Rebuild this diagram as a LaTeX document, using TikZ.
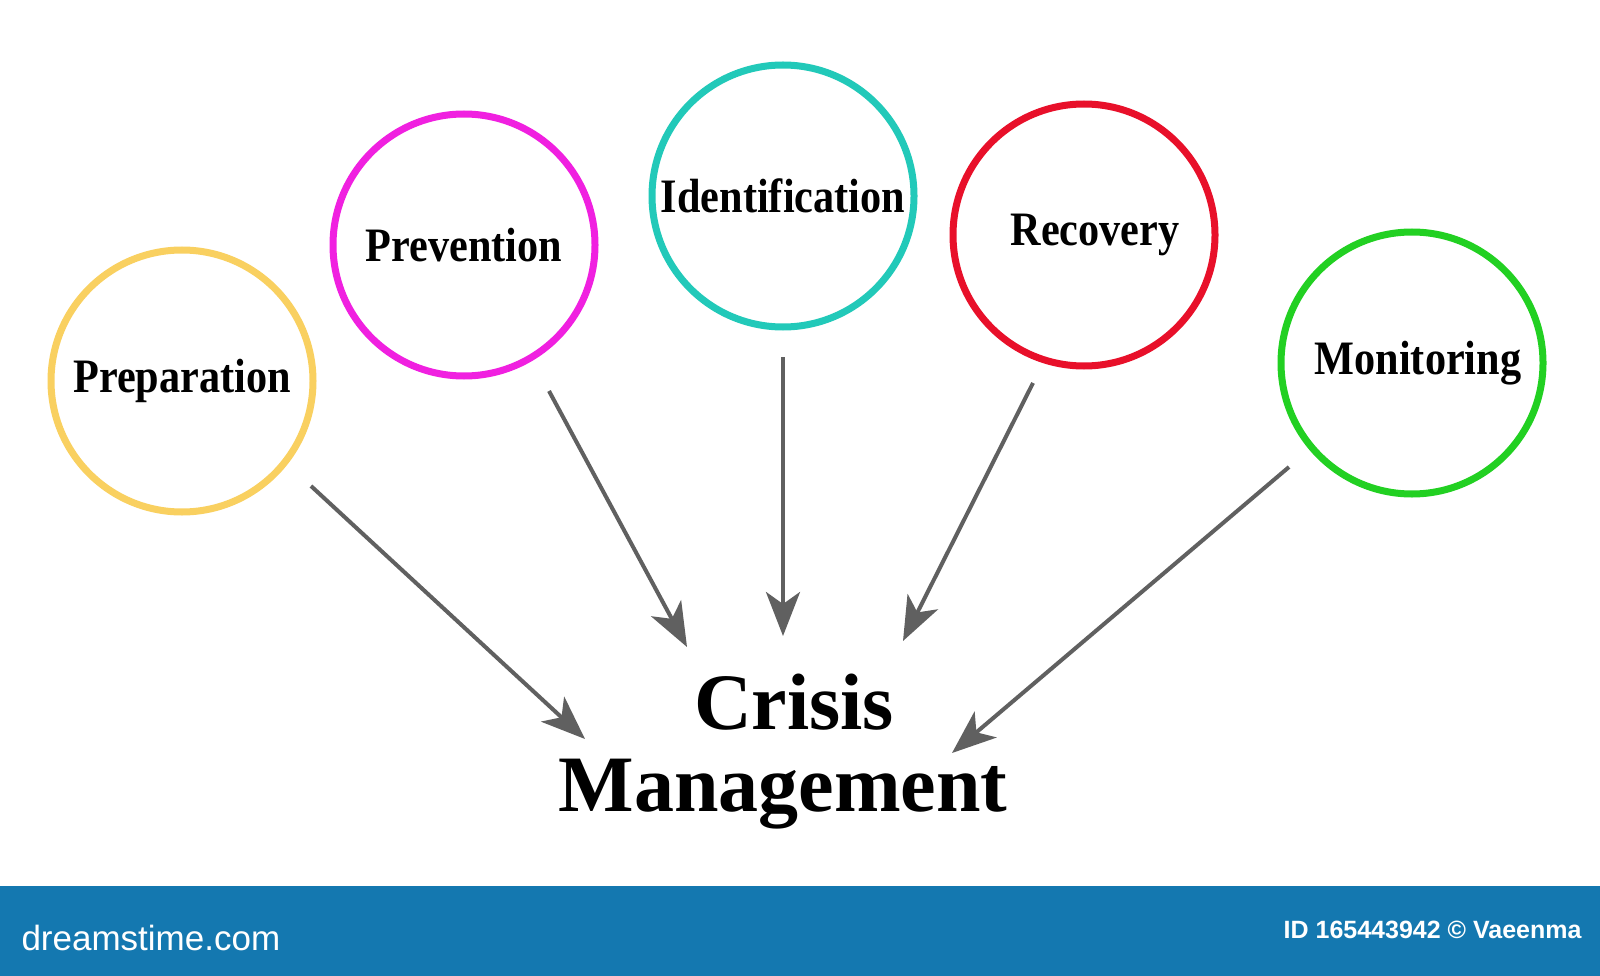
\documentclass[tikz,border=0pt]{standalone}
\usepackage{fontspec}
\setmainfont{Liberation Serif}
\newfontfamily\barfont{Liberation Sans}
\usetikzlibrary{arrows.meta}
\definecolor{cy}{HTML}{F9D060}\definecolor{cm}{HTML}{F020E0}
\definecolor{ct}{HTML}{22C9B9}\definecolor{cr}{HTML}{E8102A}
\definecolor{cg}{HTML}{22D022}\definecolor{bar}{HTML}{1478B0}
\definecolor{ar}{HTML}{606060}
\tikzset{ring/.style={circle,draw=#1,line width=7pt,minimum size=262pt,inner sep=0pt,
  font=\fontsize{48}{54}\selectfont\bfseries},
  arr/.style={draw=ar,line width=4pt,-{Stealth[length=44pt,width=34pt,inset=12pt]}},
  title/.style={font=\fontsize{80}{86}\selectfont\bfseries}}
\begin{document}
\begin{tikzpicture}[x=1pt,y=-1pt]
\useasboundingbox (0,0) rectangle (1600,976);
\fill[white] (0,0) rectangle (1600,976);
\node[ring=cy] (prep) at (182,381) {\raisebox{-10pt}{\scalebox{0.88}[1]{Preparation}}};
\node[ring=cm] (prev) at (464,245) {\raisebox{-3pt}{\scalebox{0.88}[1]{Prevention}}};
\node[ring=ct] (iden) at (783,196) {\raisebox{-3pt}{\scalebox{0.88}[1]{Identification}}};
\node[ring=cr] (reco) at (1084,235) {\hspace*{22pt}\raisebox{-6pt}{\scalebox{0.88}[1]{Recovery}}};
\node[ring=cg] (moni) at (1412,363) {\hspace*{12pt}\raisebox{-8pt}{\scalebox{0.88}[1]{Monitoring}}};
\node[title] (crisis) at (794,702) {Crisis};
\node[title] (mgmt) at (783,794) {Management};
\coordinate (s1) at (311,486); \coordinate (e1) at (585,739);
\coordinate (s2) at (549,391); \coordinate (e2) at (687,647);
\coordinate (s3) at (783,357); \coordinate (e3) at (783,636);
\coordinate (s4) at (1033,383); \coordinate (e4) at (903,641);
\coordinate (s5) at (1289,467); \coordinate (e5) at (952,753);
\foreach \i in {1,...,5} \draw[arr] (s\i) -- (e\i);
\fill[bar] (0,886) rectangle (1600,976);
\node[font=\barfont\fontsize{35}{38}\selectfont,text=white,anchor=west] (dm) at (18,938) {dreamstime.com};
\node[font=\barfont\bfseries\fontsize{25}{28}\selectfont,text=white,anchor=east] (id) at (1585,930) {ID 165443942 © Vaeenma};
\end{tikzpicture}
\end{document}
